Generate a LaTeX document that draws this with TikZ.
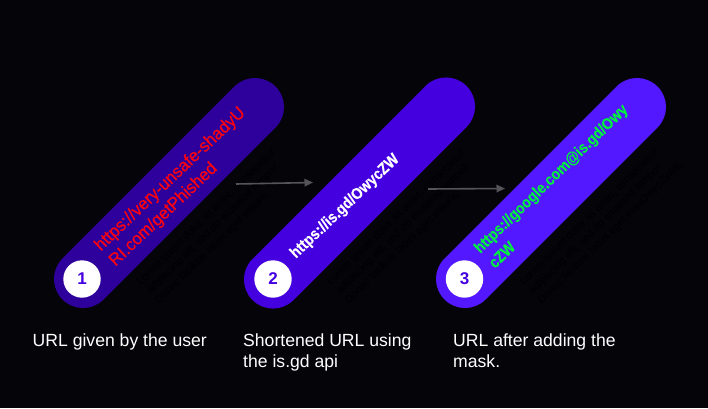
\documentclass[tikz,border=0pt]{standalone}
\usepackage{fontspec}
\setmainfont{Liberation Sans}
\newfontfamily\urlplain[FakeStretch=0.95,FakeBold=0.3]{Liberation Sans}
\newfontfamily\urlbold[FakeStretch=0.88,FakeBold=0.3]{Liberation Sans}
\usetikzlibrary{arrows.meta}
\definecolor{bgdark}{HTML}{050409}
\definecolor{pillA}{HTML}{2E009C}
\definecolor{pillB}{HTML}{4500E0}
\definecolor{pillC}{HTML}{5318FF}
\definecolor{shadeA}{HTML}{250080}
\definecolor{shadeB}{HTML}{3000A0}
\definecolor{shadeC}{HTML}{3C10B8}
\definecolor{urlred}{HTML}{FF0010}
\definecolor{urlgreen}{HTML}{00F040}
\definecolor{arrowgray}{HTML}{555558}
\definecolor{loremgray}{HTML}{000000}
\tikzset{
  pill/.style={rotate=45, minimum height=58, rounded corners=28.9, inner sep=0},
  badge/.style={circle, fill=white, minimum size=37.4, inner sep=0, text=pillB,
    font=\fontsize{17}{17}\selectfont\bfseries},
  urltext/.style={rotate=43.5, anchor=west, inner sep=0, align=left},
  lorem/.style={rotate=44.5, anchor=west, inner sep=0, align=left, text=loremgray,
    font=\fontsize{10.6}{13}\selectfont},
  caption/.style={anchor=north west, inner sep=0, align=left, text=white,
    font=\fontsize{17.6}{21.5}\selectfont},
  flow/.style={draw=arrowgray, line width=1.6, -{Triangle[length=8.5,width=7.5]}}
}
\begin{document}
\begin{tikzpicture}[x=1pt, y=-1pt]
      \useasboundingbox [fill=bgdark] (0, 0) rectangle (708, 408);
      % lorem text behind the pills
      \foreach \i/\dx/\tail in {1/0/mauris., 2/190/mauris., 3/383/mauOwycZWris.} {
        \node [lorem] (lorem\i) at (148+\dx, 293) {Lorem ipsum dolor sit amet, consectetur\\
          adipiscing elit, sed do eiusmod tempor.\\Donec facilisis lacus eget \tail};
      }
      % pills and numbers
      \foreach \i/\cx/\bx/\len/\col/\dark in {1/169/82/301.2/pillA/shadeA, 2/359.5/273/302.7/pillB/shadeB, 3/551/464.5/301.2/pillC/shadeC} {
        \node [pill, minimum width=\len, fill=\col, path picture={
            \shade [inner color=\dark, outer color=\col] (path picture bounding box.west) ++(25, 4) circle (38);
          }] (pill\i) at (\cx, 193) {};
        \node [badge] (badge\i) at (\bx, 279) {\i};
      }
      \node [urltext, text=urlred, font=\urlplain\fontsize{17.6}{21}\selectfont] (urlA) at (105, 256)
        {https://very-unsafe-shadyU\\RI.com/getPhished};
      \node [urltext, text=white, font=\urlbold\fontsize{16}{21}\selectfont\bfseries] (urlB) at (293, 256)
        {https://is.gd/OwycZW};
      \node [urltext, rotate=0.5, text=urlgreen, font=\urlbold\fontsize{16}{21}\selectfont\bfseries] (urlC) at (483.5, 257.5)
        {https://google.com@is.gd/Owy\\cZW};
      \node [caption] (capA) at (32.5, 333.5) {URL given by the user};
      \node [caption] (capB) at (243, 333.5) {Shortened URL using\\the is.gd api};
      \node [caption] (capC) at (453, 333.5) {URL after adding the\\mask.};
      \coordinate (fromA) at (236, 184);
      \coordinate (toA) at (313, 182.5);
      \coordinate (fromB) at (428, 189);
      \coordinate (toB) at (505, 188.5);
      \draw [flow] (fromA) -- (toA);
      \draw [flow] (fromB) -- (toB);
    \end{tikzpicture}
\end{document}
